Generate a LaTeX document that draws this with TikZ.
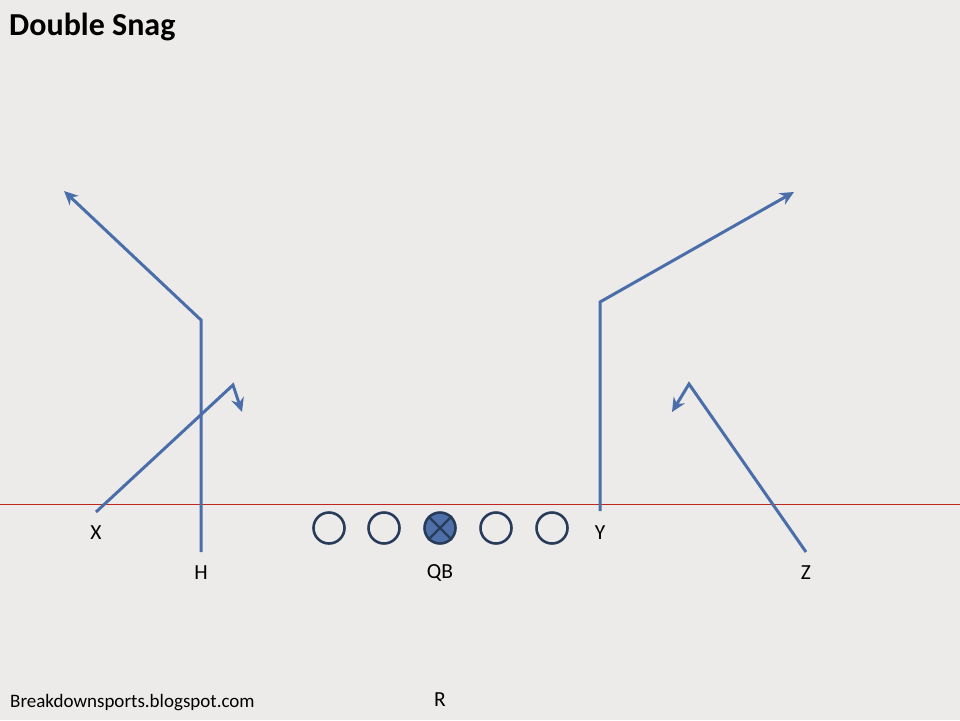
\documentclass[tikz,border=0pt]{standalone}
\usepackage{fontspec}
\setmainfont{Carlito}
\usepackage{xcolor}
\usetikzlibrary{arrows.meta}

\definecolor{fieldbg}{RGB}{237,235,233}
\definecolor{routeblue}{RGB}{74,110,169}
\definecolor{linemen}{RGB}{40,60,90}
\definecolor{qbfill}{RGB}{79,111,168}
\definecolor{scrimmage}{RGB}{190,40,30}

\begin{document}
\begin{tikzpicture}[
    x=1pt, y=-1pt,
    player/.style={font=\fontsize{21.5}{24}\selectfont, inner sep=0pt},
    lineman/.style={draw=linemen, circle, line width=2.6pt, minimum size=31pt, inner sep=0pt},
    route/.style={draw=routeblue, line width=3pt, line join=miter},
    >={Stealth[length=14pt, width=13pt]}
]

% Field
\fill[fieldbg] (0,0) rectangle (960,720);
\useasboundingbox (0,0) rectangle (960,720);
\draw[scrimmage, line width=0.8pt] (0,504) -- (960,504);

% Title and footer
\node[anchor=base west, inner sep=0pt, font=\fontsize{32}{36}\selectfont\bfseries] (title) at (9,35) {Double Snag};
\node[anchor=base west, inner sep=0pt, font=\fontsize{19}{22}\selectfont] (footer) at (10,707) {Breakdownsports.blogspot.com};

% Offensive line
\node[lineman] (LT) at (329,528) {};
\node[lineman] (LG) at (384,528) {};
\node[lineman, fill=qbfill] (C) at (440,528) {};
\draw[linemen, line width=2.4pt] (C.45) -- (C.-135) (C.135) -- (C.-45);
\node[lineman] (RG) at (496,528) {};
\node[lineman] (RT) at (552,528) {};

% Players
\node[player] (X) at (96,533) {X};
\node[player] (H) at (201,573) {H};
\node[player] (QB) at (440,573) {QB};
\node[player] (Y) at (600,533) {Y};
\node[player] (Z) at (806,573) {Z};
\node[player] (R) at (440,700) {R};

% Route points
\coordinate (Hs) at (201,552);
\coordinate (Hb) at (201,320);
\coordinate (He) at (64,191);
\coordinate (Xs) at (96,512);
\coordinate (Xb) at (233,385);
\coordinate (Xe) at (242,412);
\coordinate (Ys) at (600,511);
\coordinate (Yb) at (600,302);
\coordinate (Ye) at (794,192);
\coordinate (Zs) at (806,552);
\coordinate (Zb) at (689,384);
\coordinate (Ze) at (672,412);

% Routes
\draw[route, ->] (Hs) -- (Hb) -- (He);
\draw[route, ->] (Xs) -- (Xb) -- (Xe);
\draw[route, ->] (Ys) -- (Yb) -- (Ye);
\draw[route, ->] (Zs) -- (Zb) -- (Ze);

\end{tikzpicture}
\end{document}
